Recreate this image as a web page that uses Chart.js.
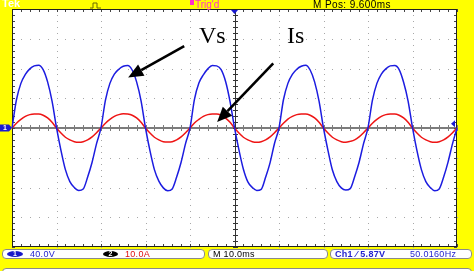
<!DOCTYPE html>
<html lang="en">
<head>
<meta charset="UTF-8">
<title>Vs / Is scope capture</title>
<script src="https://cdn.jsdelivr.net/npm/chart.js"></script>
<style>
  html, body { margin: 0; padding: 0; background: #ffff00; }
  #scope { position: relative; width: 474px; height: 271px; overflow: hidden; background: #ffff00;
           font-family: "Liberation Sans", Arial, sans-serif; }
  #scope canvas { position: absolute; left: 0; top: 0; }
  .t { position: absolute; white-space: nowrap; line-height: 1; }
  .box { position: absolute; background: #fff; border: 1px solid #8a8a8a; border-radius: 4px; box-sizing: border-box; }
  .pill { position: absolute; border-radius: 50%; color: #fff; font: bold 7px "Liberation Sans", Arial, sans-serif;
          text-align: center; line-height: 6px; }
  .lbl { position: absolute; font: 24px "Liberation Serif", "Times New Roman", serif; color: #000; line-height: 24px; }
  .bt { font-size: 9px; letter-spacing: 0.3px; }
</style>
</head>
<body>
<div id="scope">
  <canvas id="scopeChart" width="474" height="271"></canvas>

  <!-- top status line -->
  <div class="t" style="left:2px; top:-2px; color:#fff; font-weight:bold; font-size:11px;">Tek</div>
  <svg style="position:absolute; left:90px; top:1px;" width="12" height="8">
    <polyline points="0,7 3,7 3,2 7,2 7,7 11,7" fill="none" stroke="#6b6b00" stroke-width="1"/>
  </svg>
  <div style="position:absolute; left:190px; top:0px; width:4px; height:5px; background:#ff30c8;"></div>
  <div class="t" style="left:195px; top:0px; color:#ff30c8; font-size:10px;">Trig'd</div>
  <div class="t" style="left:313px; top:0px; color:#000; font-size:10px; letter-spacing:0.4px;">M Pos: 9.600ms</div>

  <!-- annotations -->
  <div class="lbl" style="left:199px; top:23px;">Vs</div>
  <div class="lbl" style="left:287px; top:23px;">Is</div>

  <!-- bottom status boxes -->
  <div class="box" style="left:2px; top:249px; width:203px; height:10px;"></div>
  <div class="pill" style="left:7px; top:251px; width:16px; height:6px; background:#1818c8;">1</div>
  <div class="t bt" style="left:30px; top:250px; color:#2323d0;">40.0V</div>
  <div class="pill" style="left:103px; top:251px; width:15px; height:6px; background:#000;">2</div>
  <div class="t bt" style="left:125px; top:250px; color:#e01010;">10.0A</div>

  <div class="box" style="left:208px; top:249px; width:120px; height:10px;"></div>
  <div class="t bt" style="left:213px; top:250px; color:#000;">M 10.0ms</div>

  <div class="box" style="left:330px; top:249px; width:142px; height:10px;"></div>
  <div class="t bt" style="left:335px; top:250px; color:#2323d0; font-weight:bold;">Ch1 &#x2044; 5.87V</div>
  <div class="t bt" style="left:410px; top:250px; color:#2323d0;">50.0160Hz</div>

  <div class="box" style="left:2px; top:268px; width:470px; height:10px;"></div>
</div>

<script>
// time axis, 1 ms steps across 10 divisions of 10 ms
const timeMs = [
  0, 1, 2, 3, 4, 5, 6, 7, 8, 9, 10, 11, 12, 13, 14, 15, 16, 17, 18, 19,
  20, 21, 22, 23, 24, 25, 26, 27, 28, 29, 30, 31, 32, 33, 34, 35, 36, 37, 38, 39,
  40, 41, 42, 43, 44, 45, 46, 47, 48, 49, 50, 51, 52, 53, 54, 55, 56, 57, 58, 59,
  60, 61, 62, 63, 64, 65, 66, 67, 68, 69, 70, 71, 72, 73, 74, 75, 76, 77, 78, 79,
  80, 81, 82, 83, 84, 85, 86, 87, 88, 89, 90, 91, 92, 93, 94, 95, 96, 97, 98, 99,
  100
];

// supply voltage Vs (V), channel 1 at 40 V/div
const vsVolts = [
  0, 38, 60, 72, 79.5, 83.5, 84.5, 78.5, 62, 36, 0.5, -30, -56, -72, -80, -84, -82, -66, -46, -21,
  0.5, 37.5, 60, 72.5, 79, 83, 84, 78, 62, 36.5, 0, -30.5, -56, -71.5, -80.5, -84.5, -82, -66, -46, -21,
  0, 38.5, 60.5, 71.5, 79.5, 84, 83.5, 78.5, 62.5, 35.5, 0.5, -29.5, -55.5, -72.5, -80, -84, -82.5, -66, -46.5, -20.5,
  0, 38, 60, 72, 79, 83, 84.5, 78, 62, 36, 0, -30, -56.5, -72, -80.5, -83.5, -81.5, -65.5, -46, -21,
  0.5, 37.5, 60, 72.5, 79.5, 83.5, 84, 78.5, 61.5, 36.5, 0.5, -30.5, -56, -72, -80, -84.5, -82, -66, -45.5, -21,
  0
];

// source current Is (A), channel 2 at 10 A/div
const isAmps = [
  0, 1.6, 2.9, 3.9, 4.5, 4.7, 4.7, 4.3, 3.4, 1.9, 0, -1.7, -3.1, -4.0, -4.6, -4.8, -4.6, -4.0, -3.0, -1.6,
  0, 1.6, 2.9, 3.9, 4.5, 4.8, 4.7, 4.3, 3.4, 1.9, 0, -1.7, -3.1, -4.0, -4.6, -4.7, -4.6, -4.0, -3.0, -1.6,
  0, 1.7, 2.9, 3.9, 4.5, 4.7, 4.7, 4.3, 3.3, 1.9, 0, -1.7, -3.1, -4.0, -4.6, -4.8, -4.6, -4.0, -3.0, -1.6,
  0, 1.6, 3.0, 3.9, 4.5, 4.7, 4.7, 4.3, 3.4, 1.9, 0, -1.7, -3.1, -4.0, -4.6, -4.8, -4.5, -4.0, -3.0, -1.6,
  0, 1.6, 2.9, 3.9, 4.5, 4.7, 4.7, 4.3, 3.4, 1.9, 0, -1.7, -3.1, -4.0, -4.6, -4.8, -4.6, -4.0, -3.0, -1.6,
  0
];

const voltsPerDiv = 40;
const ampsPerDiv = 10;
const msPerDiv = 10;
const trigLevelV = 5.87;

// arrow annotations in data units: [fromMs, fromV, toMs, toV]
const vsArrow = [38.7, 110, 26.1, 68];
const isArrow = [58.7, 87, 46.1, 8];

// scope graticule: dotted grid, centre cross with ticks, ticked frame
const graticule = {
  id: 'graticule',
  beforeDraw(chart) {
    const { ctx, chartArea: a } = chart;
    ctx.save();
    ctx.fillStyle = '#ffffff';
    ctx.fillRect(a.left, a.top, a.right - a.left, a.bottom - a.top);
    ctx.restore();
  },
  beforeDatasetsDraw(chart) {
    const { ctx, chartArea: a, scales: { x, y } } = chart;
    const minorV = voltsPerDiv / 5;
    const xs = i => Math.round(x.getPixelForValue(i));
    const ys = v => Math.round(y.getPixelForValue(v));
    ctx.save();

    // dotted division lines
    ctx.fillStyle = '#a8a8a8';
    for (let i = msPerDiv; i < 100; i += msPerDiv) {
      if (i === 50) continue;
      for (let v = -160; v <= 160; v += minorV) ctx.fillRect(xs(i), ys(v), 1, 1);
    }
    for (let v = -120; v <= 120; v += voltsPerDiv) {
      if (v === 0) continue;
      for (let i = 0; i <= 100; i += 2) ctx.fillRect(xs(i), ys(v), 1, 1);
    }

    // horizontal centre line (grey, thick) with ticks
    const cy = ys(0);
    ctx.fillStyle = '#7c7c7c';
    ctx.fillRect(a.left, cy - 1, a.right - a.left, 2);
    for (let i = 0; i <= 100; i += 2) ctx.fillRect(xs(i), cy - 3, 1, 6);

    // vertical centre line with ticks
    const cx = xs(50);
    ctx.fillStyle = '#333333';
    ctx.fillRect(cx, a.top, 1, a.bottom - a.top);
    for (let v = -160; v <= 160; v += minorV) ctx.fillRect(cx - 2, ys(v), 5, 1);

    // frame ticks
    ctx.fillStyle = '#444444';
    for (let i = 0; i <= 100; i += 2) {
      ctx.fillRect(xs(i), a.top, 1, 3);
      ctx.fillRect(xs(i), a.bottom - 3, 1, 3);
    }
    for (let v = -160; v <= 160; v += minorV) {
      ctx.fillRect(a.left, ys(v), 3, 1);
      ctx.fillRect(a.right - 3, ys(v), 3, 1);
    }

    // frame
    ctx.strokeStyle = '#222222';
    ctx.lineWidth = 1;
    ctx.strokeRect(Math.round(a.left) + 0.5, Math.round(a.top) + 0.5,
                   Math.round(a.right - a.left) - 1, Math.round(a.bottom - a.top) - 1);
    ctx.restore();
  },
  afterDatasetsDraw(chart) {
    const { ctx, chartArea: a, scales: { x, y } } = chart;
    ctx.save();

    // arrows
    [vsArrow, isArrow].forEach(([fx, fv, tx, tv]) => {
      const x0 = x.getPixelForValue(fx), y0 = y.getPixelForValue(fv);
      const x1 = x.getPixelForValue(tx), y1 = y.getPixelForValue(tv);
      const ang = Math.atan2(y1 - y0, x1 - x0);
      const len = 15, half = 6.5;
      const bx = x1 - len * Math.cos(ang), by = y1 - len * Math.sin(ang);
      ctx.strokeStyle = '#000';
      ctx.lineWidth = 2.6;
      ctx.beginPath();
      ctx.moveTo(x0, y0);
      ctx.lineTo(bx, by);
      ctx.stroke();
      ctx.fillStyle = '#000';
      ctx.beginPath();
      ctx.moveTo(x1, y1);
      ctx.lineTo(bx + half * Math.sin(ang), by - half * Math.cos(ang));
      ctx.lineTo(bx - half * Math.sin(ang), by + half * Math.cos(ang));
      ctx.closePath();
      ctx.fill();
    });

    // trigger position marker (top, centre)
    const cx = x.getPixelForValue(50);
    ctx.fillStyle = '#1a1ad0';
    ctx.beginPath();
    ctx.moveTo(cx - 3.5, a.top + 1);
    ctx.lineTo(cx + 3.5, a.top + 1);
    ctx.lineTo(cx, a.top + 5);
    ctx.closePath();
    ctx.fill();

    // channel 1 ground marker (left)
    const gy = y.getPixelForValue(0);
    ctx.beginPath();
    ctx.moveTo(0, gy - 3.5);
    ctx.lineTo(a.left - 3, gy - 3.5);
    ctx.lineTo(a.left, gy);
    ctx.lineTo(a.left - 3, gy + 3.5);
    ctx.lineTo(0, gy + 3.5);
    ctx.closePath();
    ctx.fill();
    ctx.fillStyle = '#fff';
    ctx.font = 'bold 7px "Liberation Sans", Arial, sans-serif';
    ctx.textAlign = 'center';
    ctx.textBaseline = 'middle';
    ctx.fillText('1', 5, gy + 0.5);

    // trigger level marker (right)
    const ty = y.getPixelForValue(trigLevelV);
    ctx.fillStyle = '#1a1ad0';
    ctx.beginPath();
    ctx.moveTo(a.right - 6, ty);
    ctx.lineTo(a.right - 2, ty - 3.5);
    ctx.lineTo(a.right - 2, ty + 3.5);
    ctx.closePath();
    ctx.fill();
    ctx.restore();
  }
};

new Chart(document.getElementById('scopeChart'), {
  type: 'line',
  data: {
    labels: timeMs,
    datasets: [
      {
        label: 'Vs',
        data: vsVolts,
        yAxisID: 'y',
        borderColor: '#1c1ce0',
        borderWidth: 1.5,
        pointRadius: 0,
        cubicInterpolationMode: 'monotone'
      },
      {
        label: 'Is',
        data: isAmps,
        yAxisID: 'y2',
        borderColor: '#ee1414',
        borderWidth: 1.5,
        pointRadius: 0,
        cubicInterpolationMode: 'monotone'
      }
    ]
  },
  options: {
    responsive: false,
    animation: false,
    layout: { padding: { left: 12, right: 17, top: 9, bottom: 24 } },
    plugins: { legend: { display: false }, tooltip: { enabled: false } },
    scales: {
      x: { type: 'category', display: false, offset: false },
      y: { display: false, min: -4 * voltsPerDiv, max: 4 * voltsPerDiv },
      y2: { display: false, min: -4 * ampsPerDiv, max: 4 * ampsPerDiv }
    }
  },
  plugins: [graticule]
});
</script>
</body>
</html>
